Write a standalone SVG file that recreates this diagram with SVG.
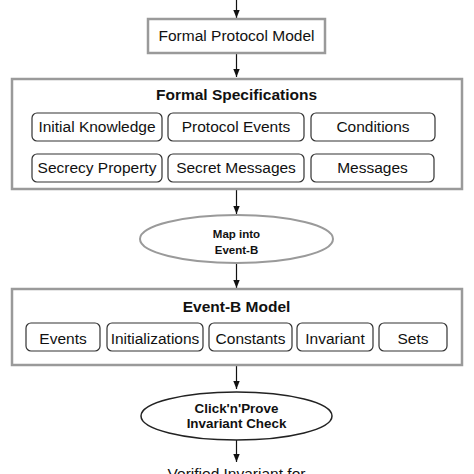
<svg xmlns="http://www.w3.org/2000/svg" width="474" height="474" viewBox="0 0 474 474">
<defs>
<marker id="ah" viewBox="0 0 8 8" refX="8" refY="4" markerWidth="8" markerHeight="8" markerUnits="userSpaceOnUse" orient="auto">
<path d="M0,0.8 L8,4 L0,7.2 Z" fill="#111"/>
</marker>
<style>
text{font-family:"Liberation Sans",Arial,sans-serif;fill:#111;text-anchor:middle}
.t{font-size:15.5px}
.b{font-size:15.5px;font-weight:bold}
.e1{font-size:11.5px;font-weight:bold}
.e2{font-size:13.4px;font-weight:bold}
.gray{fill:#fff;stroke:#9a9a9a;stroke-width:2.5}
.item{fill:#fff;stroke:#333;stroke-width:1.2}
.conn{stroke:#111;stroke-width:1.2;fill:none;marker-end:url(#ah)}
</style>
</defs>
<rect width="474" height="474" fill="#fff"/>
<g id="connectors">
<line class="conn" x1="236.5" y1="0" x2="236.5" y2="18"/>
<line class="conn" x1="236.5" y1="54" x2="236.5" y2="77"/>
<line class="conn" x1="236.5" y1="190" x2="236.5" y2="214"/>
<line class="conn" x1="236.5" y1="264" x2="236.5" y2="288"/>
<line class="conn" x1="236.5" y1="366" x2="236.5" y2="389"/>
<line class="conn" x1="236.5" y1="440" x2="236.5" y2="462"/>
</g>
<g id="formal-protocol-model">
<rect class="gray" x="148" y="19" width="177" height="34" stroke-width="2"/>
<text class="t" x="236.5" y="41">Formal Protocol Model</text>
</g>
<g id="formal-specifications">
<rect class="gray" x="12" y="79" width="450" height="110"/>
<text class="b" x="236.5" y="100">Formal Specifications</text>
</g>
<g id="initial-knowledge"><rect class="item" x="32" y="113" width="130" height="28" rx="5"/><text class="t" x="97" y="132">Initial Knowledge</text></g>
<g id="protocol-events"><rect class="item" x="168" y="113" width="136" height="28" rx="5"/><text class="t" x="236" y="132">Protocol Events</text></g>
<g id="conditions"><rect class="item" x="311" y="113" width="124" height="28" rx="5"/><text class="t" x="373" y="132">Conditions</text></g>
<g id="secrecy-property"><rect class="item" x="32" y="154" width="130" height="28" rx="5"/><text class="t" x="97" y="173">Secrecy Property</text></g>
<g id="secret-messages"><rect class="item" x="168" y="154" width="136" height="28" rx="5"/><text class="t" x="236" y="173">Secret Messages</text></g>
<g id="messages"><rect class="item" x="311" y="154" width="123" height="28" rx="5"/><text class="t" x="372.5" y="173">Messages</text></g>
<g id="map-into-event-b">
<ellipse cx="236.5" cy="239" rx="96.5" ry="24" fill="#fff" stroke="#9a9a9a" stroke-width="2"/>
<text class="e1" x="236.5" y="237.5">Map into</text>
<text class="e1" x="236.5" y="253.5">Event-B</text>
</g>
<g id="event-b-model">
<rect class="gray" x="12" y="289" width="450" height="76"/>
<text class="b" x="236.5" y="312">Event-B Model</text>
</g>
<g id="events"><rect class="item" x="26" y="323" width="74" height="28" rx="5"/><text class="t" x="63" y="344">Events</text></g>
<g id="initializations"><rect class="item" x="107" y="323" width="96" height="28" rx="5"/><text class="t" x="155" y="344">Initializations</text></g>
<g id="constants"><rect class="item" x="209" y="323" width="83" height="28" rx="5"/><text class="t" x="250.5" y="344">Constants</text></g>
<g id="invariant"><rect class="item" x="297" y="323" width="76" height="28" rx="5"/><text class="t" x="335" y="344">Invariant</text></g>
<g id="sets"><rect class="item" x="379" y="323" width="68" height="28" rx="5"/><text class="t" x="413" y="344">Sets</text></g>
<g id="click-n-prove">
<ellipse cx="236.5" cy="416" rx="95.5" ry="24" fill="#fff" stroke="#222" stroke-width="1.5"/>
<text class="e2" x="236.5" y="413">Click'n'Prove</text>
<text class="e2" x="236.5" y="428">Invariant Check</text>
</g>
<g id="verified-invariant">
<text class="t" x="236.5" y="478.5">Verified Invariant for</text>
</g>
</svg>
